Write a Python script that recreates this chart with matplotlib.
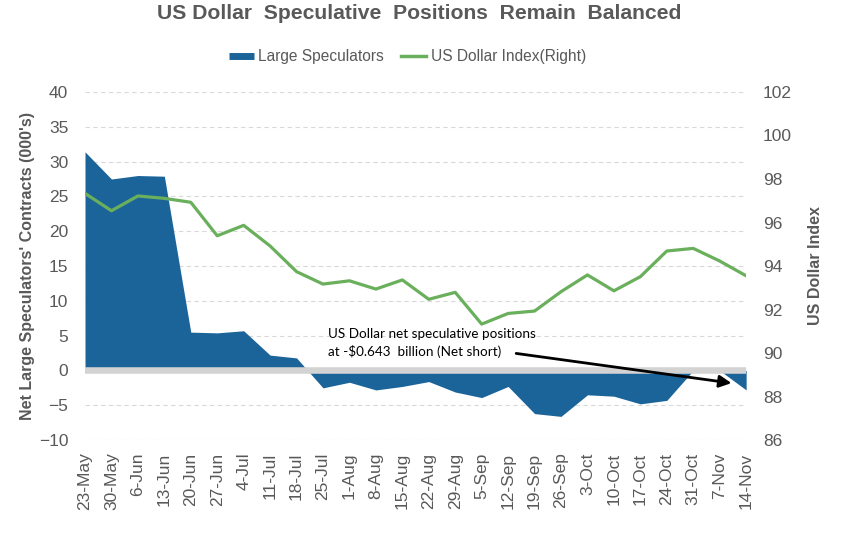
import matplotlib.pyplot as plt
from matplotlib.lines import Line2D

dates = ['23-May', '30-May', '6-Jun', '13-Jun', '20-Jun', '27-Jun', '4-Jul', '11-Jul',
         '18-Jul', '25-Jul', '1-Aug', '8-Aug', '15-Aug', '22-Aug', '29-Aug', '5-Sep',
         '12-Sep', '19-Sep', '26-Sep', '3-Oct', '10-Oct', '17-Oct', '24-Oct', '31-Oct',
         '7-Nov', '14-Nov']
large_specs = [31.4, 27.5, 28.0, 27.9, 5.5, 5.4, 5.7, 2.2, 1.8, -2.5, -1.7, -2.8, -2.3,
               -1.6, -3.1, -3.9, -2.3, -6.2, -6.6, -3.5, -3.7, -4.8, -4.3, 0.0, 0.0, -2.8]
dxy = [97.34, 96.54, 97.22, 97.11, 96.93, 95.39, 95.87, 94.92, 93.74, 93.17, 93.32,
       92.94, 93.36, 92.47, 92.79, 91.33, 91.82, 91.93, 92.82, 93.59, 92.86, 93.51,
       94.69, 94.81, 94.23, 93.55]

grey = '#595959'
blue = '#1B6499'
green = '#6AAF5C'

plt.rcParams['font.family'] = ['Liberation Sans', 'DejaVu Sans']

fig = plt.figure(figsize=(8.45, 5.36), dpi=100)
ax = fig.add_axes([0.1006, 0.179, 0.7824, 0.6494])
x = list(range(len(dates)))

ax.fill_between(x, 0, large_specs, color=blue, linewidth=0, zorder=2)
ax.axhline(0, color='#D3D3D3', linewidth=4.7, zorder=3)
ax.set_xlim(0, len(dates) - 1)
ax.set_ylim(-10, 40)
ax.set_yticks(range(-10, 41, 5))
ax.yaxis.grid(True, color='#D9D9D9', linestyle=(0, (4, 3)), linewidth=0.8)
ax.set_axisbelow(True)
ax.set_xticks(x)
ax.set_xticklabels(dates, rotation=90)
ax.tick_params(axis='both', length=0, colors=grey, labelsize=12.5)
ax.tick_params(axis='y', pad=12)
ax.tick_params(axis='x', pad=9)
ax.set_ylabel("Net Large Speculators' Contracts (000's)", color=grey,
              fontsize=11.5, fontweight='bold', labelpad=3)
for s in ax.spines.values():
    s.set_visible(False)

ax2 = ax.twinx()
ax2.plot(x, dxy, color=green, linewidth=2.3, zorder=4)
ax2.set_ylim(86, 102)
ax2.set_yticks(range(86, 103, 2))
ax2.tick_params(axis='y', length=0, colors=grey, labelsize=12.5, pad=12)
ax2.set_ylabel('US Dollar Index', color=grey, fontsize=11.5, fontweight='bold', labelpad=12)
for s in ax2.spines.values():
    s.set_visible(False)

ax2.annotate('', xy=(24.55, 88.6), xytext=(16.2, 90.0),
             arrowprops=dict(arrowstyle='-|>', color='black', lw=2, mutation_scale=18),
             zorder=6)
ax2.text(9.2, 90.45, 'US Dollar net speculative positions\nat -$0.643  billion (Net short)',
         fontsize=9.7, family=['Lato', 'DejaVu Sans'], color='black',
         va='center', ha='left', linespacing=1.45, zorder=6)

fig.text(0.496, 0.974, 'US Dollar  Speculative  Positions  Remain  Balanced',
         ha='center', va='center', fontsize=15.2, fontweight='bold', color=grey)

handles = [Line2D([], [], color=blue, linewidth=5, solid_capstyle='butt'),
           Line2D([], [], color=green, linewidth=2.5)]
fig.legend(handles, ['Large Speculators', 'US Dollar Index(Right)'], loc='center',
           bbox_to_anchor=(0.482, 0.894), ncol=2, frameon=False, fontsize=11.2,
           handlelength=1.6, handletextpad=0.3, columnspacing=1.1, labelcolor=grey)

fig.savefig('out.png', dpi=100)
